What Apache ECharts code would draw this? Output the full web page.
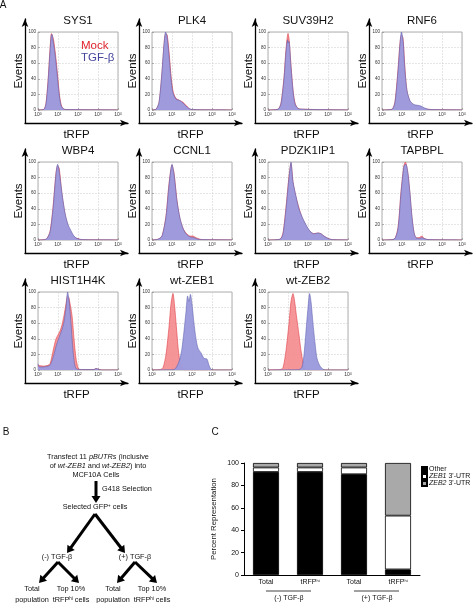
<!DOCTYPE html>
<html>
<head>
<meta charset="utf-8">
<script src="https://cdn.jsdelivr.net/npm/echarts@6/dist/echarts.min.js"></script>
<style>
html,body{margin:0;padding:0;background:#fff;}
#main{width:474px;height:603px;}
</style>
</head>
<body>
<div id="main"></div>
<script>
// ---- panel A : tRFP histograms, points are [log10(tRFP), events] ----
var panelNames = ['SYS1', 'PLK4', 'SUV39H2', 'RNF6', 'WBP4', 'CCNL1', 'PDZK1IP1', 'TAPBPL', 'HIST1H4K', 'wt-ZEB1', 'wt-ZEB2'];
var decadeExps = ['0', '1', '2', '3', '4'];

var mockSYS1 = [[0,0],[0.3,1],[0.4,9],[0.5,37],[0.6,78],[0.67,98],[0.72,95],[0.78,90],[0.88,70],[0.98,45],[1.08,18],[1.18,5],[1.3,1],[1.6,0.5],[4,0]];
var tgfSYS1 = [[0,0],[0.3,1],[0.4,8],[0.5,35],[0.6,75],[0.66,95],[0.7,97],[0.75,90],[0.85,72],[0.95,48],[1.05,22],[1.15,6],[1.3,1],[1.6,0.5],[4,0]];
var mockPLK4 = [[0,0],[0.2,1],[0.35,9],[0.5,48],[0.6,83],[0.68,98],[0.76,96],[0.86,72],[0.96,42],[1.06,23],[1.2,15],[1.4,12],[1.55,10],[1.7,6],[1.85,2],[2.0,0.5],[4,0]];
var tgfPLK4 = [[0,0],[0.2,1],[0.35,10],[0.5,50],[0.6,85],[0.68,100],[0.75,95],[0.85,70],[0.95,40],[1.05,22],[1.2,14],[1.4,12],[1.55,9],[1.7,5],[1.85,2],[2.0,0.5],[4,0]];
var mockSUV39H2 = [[0,0],[0.5,1],[0.65,9],[0.8,42],[0.9,78],[1.0,98],[1.05,92],[1.15,57],[1.25,26],[1.35,9],[1.5,2],[1.8,1],[2.5,0.5],[4,0]];
var tgfSUV39H2 = [[0,0],[0.5,1],[0.65,8],[0.8,40],[0.9,75],[0.98,90],[1.0,86],[1.05,88],[1.15,55],[1.25,25],[1.35,8],[1.5,2],[1.8,1],[2.5,0.5],[4,0]];
var mockRNF6 = [[0,0],[0.5,1],[0.65,11],[0.8,52],[0.9,86],[0.97,96],[1.05,92],[1.15,52],[1.25,24],[1.4,11],[1.6,6],[1.8,5],[1.95,4],[2.1,2],[2.3,1],[2.5,0.5],[4,0]];
var tgfRNF6 = [[0,0],[0.5,1],[0.65,10],[0.8,50],[0.9,85],[0.97,100],[1.05,90],[1.15,50],[1.25,25],[1.4,12],[1.6,7],[1.8,6],[1.95,5],[2.1,3],[2.3,1],[2.5,0.5],[4,0]];
var mockWBP4 = [[0,0],[0.4,1],[0.6,11],[0.75,42],[0.9,86],[0.98,95],[1.06,92],[1.2,58],[1.35,33],[1.5,18],[1.65,10],[1.8,4],[1.95,2],[2.2,0.5],[4,0]];
var tgfWBP4 = [[0,0],[0.4,1],[0.6,10],[0.75,40],[0.9,85],[0.98,97],[1.05,90],[1.2,60],[1.35,35],[1.5,20],[1.65,12],[1.8,5],[1.95,2],[2.2,0.5],[4,0]];
var mockCCNL1 = [[0,0],[0.3,1],[0.5,5],[0.7,31],[0.85,72],[1.0,96],[1.1,86],[1.25,50],[1.4,27],[1.55,15],[1.7,9],[1.9,5],[2.05,5],[2.2,3],[2.4,1],[2.6,0.5],[4,0]];
var tgfCCNL1 = [[0,0],[0.3,1],[0.5,5],[0.7,30],[0.85,70],[1.0,97],[1.1,85],[1.25,50],[1.4,28],[1.55,15],[1.7,8],[1.9,4],[2.1,3],[2.3,1],[2.5,0.5],[4,0]];
var mockPDZK1IP1 = [[0,0],[0.6,1],[0.75,9],[0.9,42],[1.05,82],[1.15,98],[1.25,74],[1.4,55],[1.55,41],[1.7,29],[1.85,21],[2.0,14],[2.15,10],[2.3,8],[2.5,9],[2.65,8],[2.8,5],[3.0,2],[3.2,0.5],[4,0]];
var tgfPDZK1IP1 = [[0,0],[0.6,1],[0.75,8],[0.9,40],[1.05,80],[1.15,100],[1.25,75],[1.4,56],[1.55,40],[1.7,30],[1.85,22],[2.0,15],[2.15,10],[2.3,8],[2.5,9],[2.65,8],[2.8,5],[3.0,2],[3.2,0.5],[4,0]];
var mockTAPBPL = [[0,0],[0.6,1],[0.8,16],[0.95,62],[1.1,96],[1.17,100],[1.3,84],[1.4,58],[1.5,28],[1.6,9],[1.7,3],[1.85,3],[2.0,5],[2.1,2],[2.3,0.5],[4,0]];
var tgfTAPBPL = [[0,0],[0.6,1],[0.8,15],[0.95,60],[1.1,95],[1.2,97],[1.3,85],[1.4,60],[1.5,30],[1.6,10],[1.7,3],[1.85,2],[2.0,3],[2.1,2],[2.3,0.5],[4,0]];
var mockHIST1H4K = [[0,6],[0.3,5],[0.5,6],[0.6,8],[0.7,18],[0.8,30],[0.9,40],[1.0,45],[1.1,50],[1.2,58],[1.3,70],[1.4,85],[1.48,95],[1.55,92],[1.7,70],[1.8,40],[1.9,15],[2.0,3],[2.1,0.5],[2.8,0.5],[2.9,2],[3.0,1],[3.2,0],[4,0]];
var tgfHIST1H4K = [[0,8],[0.05,4],[0.3,4],[0.5,5],[0.6,6],[0.7,12],[0.8,20],[0.9,30],[1.0,38],[1.1,45],[1.2,52],[1.3,62],[1.4,80],[1.48,100],[1.55,90],[1.65,60],[1.75,25],[1.85,5],[1.95,1],[2.8,0.5],[2.9,2],[3.0,1],[3.2,0],[4,0]];
var mockZEB1 = [[0,0],[0.4,0.5],[0.55,3],[0.7,20],[0.85,55],[0.95,85],[1.05,98],[1.12,85],[1.22,55],[1.32,25],[1.42,8],[1.55,1],[1.7,0],[4,0]];
var tgfZEB1 = [[0,0],[1.1,0.5],[1.25,5],[1.4,15],[1.5,28],[1.6,50],[1.7,75],[1.78,95],[1.85,88],[1.92,97],[2.0,85],[2.1,60],[2.2,40],[2.3,28],[2.45,22],[2.6,15],[2.75,14],[2.85,6],[2.95,1],[3.05,0],[4,0]];
var mockZEB2 = [[0,0],[0.6,0.5],[0.75,3],[0.9,25],[1.05,60],[1.15,88],[1.25,98],[1.32,90],[1.42,70],[1.55,45],[1.65,25],[1.75,10],[1.85,2],[2.0,0],[4,0]];
var tgfZEB2 = [[0,0],[1.55,0.5],[1.7,4],[1.8,20],[1.9,50],[2.0,80],[2.08,98],[2.15,88],[2.25,60],[2.35,35],[2.45,15],[2.6,5],[2.75,1],[2.9,0],[4,0]];

var mockSets = [mockSYS1, mockPLK4, mockSUV39H2, mockRNF6, mockWBP4, mockCCNL1, mockPDZK1IP1, mockTAPBPL, mockHIST1H4K, mockZEB1, mockZEB2];
var tgfSets = [tgfSYS1, tgfPLK4, tgfSUV39H2, tgfRNF6, tgfWBP4, tgfCCNL1, tgfPDZK1IP1, tgfTAPBPL, tgfHIST1H4K, tgfZEB1, tgfZEB2];

// ---- panel C : percent representation ----
var barCats = ['Total', 'tRFPhi', 'Total', 'tRFPhi'];
var otherPct = [92, 92, 90, 5];
var zeb1Pct = [4, 4, 6, 48];
var zeb2Pct = [4, 4, 4, 47];
var groupNames = ['(-) TGF-β', '(+) TGF-β'];

var FONT = 'Liberation Sans, Arial, sans-serif';
var colLeft = [38, 152, 268, 382], rowTop = [32, 162, 292], boxW = 80, boxH = 78;

var grids = [], xAxes = [], yAxes = [], series = [], graphics = [];

function txt(x, y, s, size, extra) {
  var st = {text: s, x: x, y: y, fill: '#111', fontSize: size, fontFamily: FONT,
            align: 'center', verticalAlign: 'middle', textAlign: 'center', textVerticalAlign: 'middle'};
  for (var k in extra) st[k] = extra[k];
  return {type: 'text', silent: true, style: st};
}

panelNames.forEach(function (name, i) {
  var left = colLeft[i % 4], top = rowTop[Math.floor(i / 4)];
  // outer frame with arrows
  grids.push({left: left - 13, top: top - 13, width: boxW + 23, height: boxH + 26});
  var fg = grids.length - 1;
  xAxes.push({gridIndex: fg, type: 'value', min: 0, max: 1,
    axisLine: {show: true, symbol: ['none', 'arrow'], symbolSize: [5, 8], lineStyle: {color: '#000', width: 1.3}},
    axisTick: {show: false}, axisLabel: {show: false}, splitLine: {show: false},
    name: 'tRFP', nameLocation: 'middle', nameGap: 6,
    nameTextStyle: {fontSize: 11.5, fontFamily: FONT, color: '#111'}});
  yAxes.push({gridIndex: fg, type: 'value', min: 0, max: 1,
    axisLine: {show: true, symbol: ['none', 'arrow'], symbolSize: [5, 8], lineStyle: {color: '#000', width: 1.3}},
    axisTick: {show: false}, axisLabel: {show: false}, splitLine: {show: false},
    name: 'Events', nameLocation: 'middle', nameGap: 0.5,
    nameTextStyle: {fontSize: 11.5, fontFamily: FONT, color: '#111'}});
  // plot box
  grids.push({left: left, top: top, width: boxW, height: boxH, show: true, borderColor: '#999', borderWidth: 0.8});
  var pg = grids.length - 1;
  xAxes.push({gridIndex: pg, type: 'value', min: 0, max: 4, interval: 1,
    axisLine: {show: false}, axisTick: {show: true, inside: true, length: 2, lineStyle: {color: '#777', width: 0.5}},
    splitLine: {show: true, lineStyle: {color: '#ccc', type: 'dashed', width: 0.5}},
    axisLabel: {margin: 2, color: '#333', fontFamily: FONT,
      formatter: function (v) { return '{b|10}{s|' + decadeExps[v] + '}'; },
      rich: {b: {fontSize: 5, fontFamily: FONT, color: '#333'}, s: {fontSize: 3.5, fontFamily: FONT, color: '#333', verticalAlign: 'top'}}}});
  yAxes.push({gridIndex: pg, type: 'value', min: 0, max: 100, interval: 20,
    axisLine: {show: false}, axisTick: {show: true, inside: true, length: 2, lineStyle: {color: '#777', width: 0.5}},
    splitLine: {show: true, lineStyle: {color: '#ccc', type: 'dashed', width: 0.5}},
    axisLabel: {margin: 2, fontSize: 4.5, color: '#333', fontFamily: FONT}});
  var ax = xAxes.length - 1, ay = yAxes.length - 1;
  series.push({type: 'line', name: 'Mock', xAxisIndex: ax, yAxisIndex: ay, data: mockSets[i],
    showSymbol: false, smooth: 0.25, silent: true, z: 2,
    lineStyle: {color: '#e04048', width: 0.6}, itemStyle: {color: '#e03a3a'},
    areaStyle: {color: '#f4898d', opacity: 0.9}});
  series.push({type: 'line', name: 'TGF-β', xAxisIndex: ax, yAxisIndex: ay, data: tgfSets[i],
    showSymbol: false, smooth: 0.25, silent: true, z: 3,
    lineStyle: {color: '#5656a8', width: 0.5}, itemStyle: {color: '#3a3a9a'},
    areaStyle: {color: '#9a9ade', opacity: 0.96}});
  graphics.push(txt(left + boxW / 2, top - 11, name, 11.5));
});

// ---- panel C grid ----
grids.push({left: 244, top: 463, width: 176, height: 112});
var cg = grids.length - 1;
xAxes.push({gridIndex: cg, type: 'category', data: barCats,
  axisLine: {lineStyle: {color: '#000', width: 1}}, axisTick: {show: false},
  axisLabel: {interval: 0, margin: 4, color: '#111', fontSize: 7, fontFamily: FONT,
    formatter: function (v) { return v === 'tRFPhi' ? '{n|tRFP}{s|hi}' : '{n|' + v + '}'; },
    rich: {n: {fontSize: 7, fontFamily: FONT, color: '#111'}, s: {fontSize: 4, fontFamily: FONT, color: '#111', verticalAlign: 'top'}}}});
yAxes.push({gridIndex: cg, type: 'value', min: 0, max: 100, interval: 20,
  axisLine: {show: true, lineStyle: {color: '#000', width: 1}},
  axisTick: {show: true, length: 3, lineStyle: {color: '#000'}},
  splitLine: {show: false},
  axisLabel: {margin: 5, fontSize: 7, color: '#111', fontFamily: FONT},
  name: 'Percent Representation', nameLocation: 'middle', nameGap: 26,
  nameTextStyle: {fontSize: 7.8, fontFamily: FONT, color: '#111'}});
var cx = xAxes.length - 1, cy = yAxes.length - 1;
var barBase = {type: 'bar', stack: 'pct', xAxisIndex: cx, yAxisIndex: cy, barWidth: 26, silent: true};
series.push(Object.assign({}, barBase, {name: 'Other', data: otherPct, itemStyle: {color: '#000', borderColor: '#000', borderWidth: 0.8}}));
series.push(Object.assign({}, barBase, {name: "ZEB1 3'-UTR", data: zeb1Pct, itemStyle: {color: '#fff', borderColor: '#000', borderWidth: 0.8}}));
series.push(Object.assign({}, barBase, {name: "ZEB2 3'-UTR", data: zeb2Pct, itemStyle: {color: '#a9a9a9', borderColor: '#000', borderWidth: 0.8}}));

// group brackets under panel C
var slot = 176 / barCats.length;
groupNames.forEach(function (g, k) {
  var cxm = 244 + slot * (2 * k + 1);
  graphics.push({type: 'line', silent: true, shape: {x1: cxm - 22, y1: 591, x2: cxm + 23, y2: 591}, style: {stroke: '#111', lineWidth: 0.8}});
  graphics.push(txt(cxm + 1, 598, g, 7));
});

// ---- panel B flow chart ----
function arrow(x1, y1, x2, y2) {
  var dx = x2 - x1, dy = y2 - y1, L = Math.sqrt(dx * dx + dy * dy);
  var ux = dx / L, uy = dy / L, px = -uy, py = ux, hl = 7, hw = 4.5;
  var bx = x2 - ux * hl, by = y2 - uy * hl;
  return [
    {type: 'line', silent: true, shape: {x1: x1, y1: y1, x2: bx + ux, y2: by + uy}, style: {stroke: '#000', lineWidth: 3}},
    {type: 'polygon', silent: true, shape: {points: [[x2, y2], [bx + px * hw, by + py * hw], [bx - px * hw, by - py * hw]]}, style: {fill: '#000'}}
  ];
}
var flowRich = {i: {fontStyle: 'italic', fontSize: 7.3, fontFamily: FONT, fill: '#111'},
                s: {fontSize: 4.5, fontFamily: FONT, fill: '#111', verticalAlign: 'top'}};
graphics.push(txt(98, 457, 'Transfect 11 {i|pBUTRs} (inclusive', 7.3, {rich: flowRich}));
graphics.push(txt(98, 466, 'of {i|wt-ZEB1} and {i|wt-ZEB2}) into', 7.3, {rich: flowRich}));
graphics.push(txt(96, 475, 'MCF10A Cells', 7.3));
graphics = graphics.concat(arrow(96, 481, 96, 503));
graphics.push(txt(102, 489, 'G418 Selection', 7.3, {align: 'left', textAlign: 'left'}));
graphics.push(txt(95, 507, 'Selected GFP{s|+} cells', 7.3, {rich: flowRich}));
graphics = graphics.concat(arrow(95, 514, 67, 553), arrow(95, 514, 125, 553));
graphics.push(txt(57, 557, '(-) TGF-β', 7.3));
graphics.push(txt(135, 557, '(+) TGF-β', 7.3));
graphics = graphics.concat(arrow(58, 562, 39, 583), arrow(58, 562, 79, 583));
graphics = graphics.concat(arrow(135, 562, 117, 583), arrow(135, 562, 157, 583));
[[32, 'Total', 'population'], [71, 'Top 10%', 'tRFP{s|hi} cells'], [113, 'Total', 'population'], [152, 'Top 10%', 'tRFP{s|hi} cells']].forEach(function (b) {
  graphics.push(txt(b[0], 589, b[1], 7.3));
  graphics.push(txt(b[0], 600, b[2], 7.3, {rich: flowRich}));
});

// panel letters
graphics.push(txt(3, 5, 'A', 10));
graphics.push(txt(6, 432, 'B', 10));
graphics.push(txt(215, 432, 'C', 10));

var chart = echarts.init(document.getElementById('main'));
chart.setOption({
  animation: false,
  backgroundColor: '#fff',
  textStyle: {fontFamily: FONT},
  legend: [
    {data: [{name: 'Mock', textStyle: {color: '#e0242c'}}, {name: 'TGF-β', textStyle: {color: '#45459c'}}],
     icon: 'none', orient: 'vertical', left: 71, top: 35, itemGap: 0, itemWidth: 0, itemHeight: 6,
     selectedMode: false, textStyle: {fontSize: 11.5, fontFamily: FONT, padding: 0}},
    {data: ['Other', "ZEB1 3'-UTR", "ZEB2 3'-UTR"], icon: 'rect', orient: 'vertical', left: 416, top: 461,
     itemGap: 0, itemWidth: 5, itemHeight: 5, selectedMode: false,
     formatter: function (n) { return n.indexOf('ZEB') === 0 ? '{i|' + n.slice(0, 4) + '}' + n.slice(4) : n; },
     textStyle: {fontSize: 7, lineHeight: 6.5, fontFamily: FONT, color: '#111', padding: [0, 0, 0, -3],
       rich: {i: {fontStyle: 'italic', fontSize: 7, lineHeight: 6.5, fontFamily: FONT, color: '#111'}}}}
  ],
  grid: grids,
  xAxis: xAxes,
  yAxis: yAxes,
  series: series,
  graphic: graphics
});
</script>
</body>
</html>
